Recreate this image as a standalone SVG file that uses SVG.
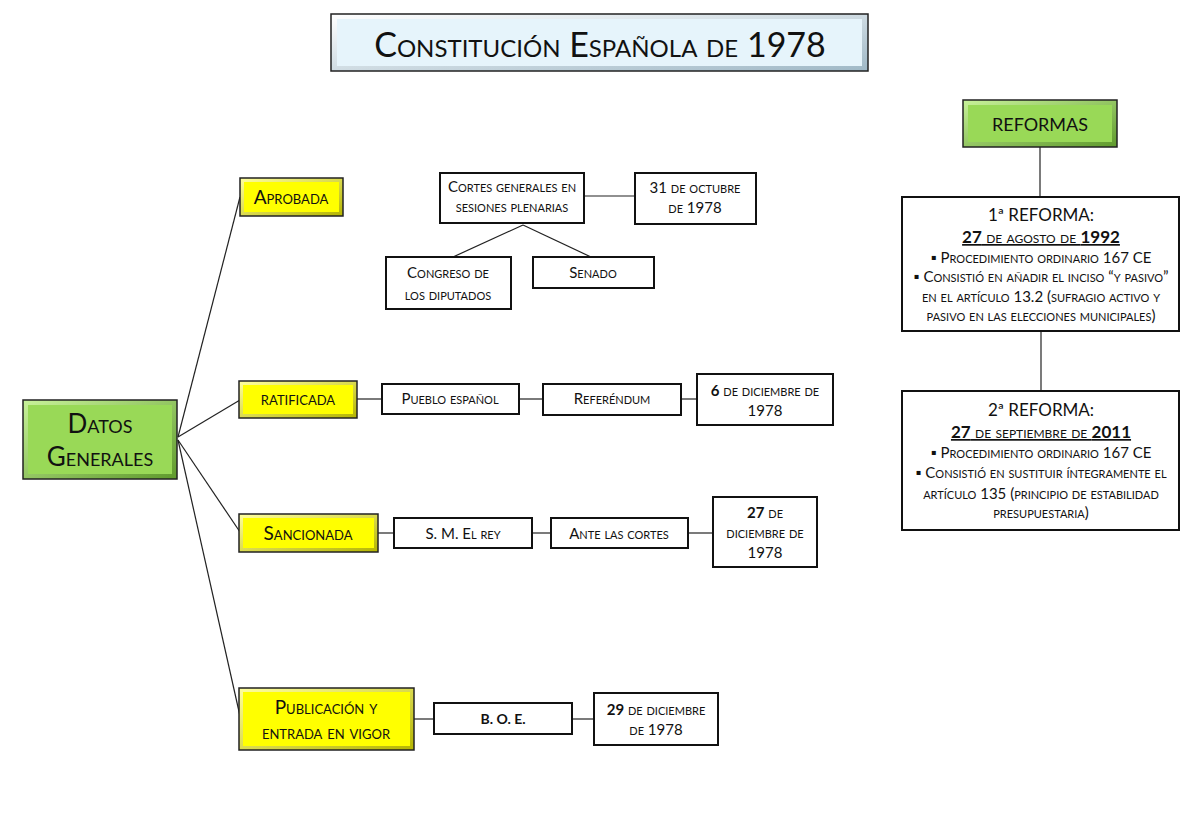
<svg xmlns="http://www.w3.org/2000/svg" width="1200" height="831" viewBox="0 0 1200 831">
<defs>
<linearGradient id="bevY" x1="0" y1="0" x2="1" y2="1"><stop offset="0" stop-color="#ffffa0"/><stop offset="1" stop-color="#b5b500"/></linearGradient>
<linearGradient id="bevG" x1="0" y1="0" x2="1" y2="1"><stop offset="0" stop-color="#c8f29a"/><stop offset="1" stop-color="#5f9a2c"/></linearGradient>
<linearGradient id="bevB" x1="0" y1="0" x2="1" y2="1"><stop offset="0" stop-color="#ffffff"/><stop offset="1" stop-color="#9fb8c6"/></linearGradient>
</defs>
<style>
text{font-family:"Lato","Liberation Sans",sans-serif;fill:#111;text-anchor:middle}
.sc{font-variant:small-caps}
.t{font-size:15px}
.y{font-size:19px}
.box{fill:#fff;stroke:#111;stroke-width:2}
.oY{fill:url(#bevY);stroke:#222;stroke-width:1.5}
.iY{fill:#ffff00}
.oG{fill:url(#bevG);stroke:#222;stroke-width:1.5}
.iG{fill:#99d957}
.con line{stroke:#222;stroke-width:1.2}
.b{font-weight:bold}
</style>
<rect width="1200" height="831" fill="#fff"/>

<g id="title">
<rect x="331" y="14" width="537" height="57" fill="url(#bevB)" stroke="#222" stroke-width="1.5"/>
<rect x="337" y="19" width="525" height="47" fill="#e6f4fb"/>
<text x="600" y="57" class="sc" style="font-size:34px">Constitución Española de 1978</text>
</g>

<g class="con" id="connectors">
<line x1="178" y1="437" x2="240" y2="197"/>
<line x1="178" y1="437" x2="240" y2="400"/>
<line x1="178" y1="440" x2="240" y2="532"/>
<line x1="178" y1="440" x2="240" y2="716"/>
<line x1="584" y1="196" x2="635" y2="196"/>
<line x1="523" y1="225" x2="453" y2="257"/>
<line x1="523" y1="225" x2="591" y2="257"/>
<line x1="357" y1="399" x2="382" y2="399"/>
<line x1="519" y1="399" x2="543" y2="399"/>
<line x1="681" y1="399" x2="697" y2="399"/>
<line x1="378" y1="533" x2="394" y2="533"/>
<line x1="532" y1="533" x2="551" y2="533"/>
<line x1="688" y1="533" x2="713" y2="533"/>
<line x1="414" y1="719" x2="434" y2="719"/>
<line x1="572" y1="719" x2="594" y2="719"/>
<line x1="1040" y1="147" x2="1040" y2="197"/>
<line x1="1041" y1="331" x2="1041" y2="391"/>
</g>

<g id="datos-generales">
<rect x="23" y="400" width="154" height="79" class="oG"/>
<rect x="28" y="405" width="144" height="69" class="iG"/>
<text x="100" y="433" class="sc" style="font-size:26px">Datos</text>
<text x="100" y="466" class="sc" style="font-size:26px">Generales</text>
</g>

<g id="aprobada">
<rect x="240" y="178" width="103" height="38" class="oY"/>
<rect x="244" y="182" width="95" height="30" class="iY"/>
<text x="291" y="204" class="sc y">Aprobada</text>
</g>
<g id="ratificada">
<rect x="239" y="381" width="118" height="37" class="oY"/>
<rect x="243" y="385" width="110" height="29" class="iY"/>
<text x="298" y="405" class="sc y">ratificada</text>
</g>
<g id="sancionada">
<rect x="239" y="514" width="139" height="38" class="oY"/>
<rect x="243" y="518" width="131" height="30" class="iY"/>
<text x="308" y="540" class="sc y">Sancionada</text>
</g>
<g id="publicacion">
<rect x="239" y="688" width="175" height="62" class="oY"/>
<rect x="243" y="692" width="167" height="54" class="iY"/>
<text x="326" y="714" class="sc y">Publicación y</text>
<text x="326" y="739" class="sc y">entrada en vigor</text>
</g>

<g id="cortes">
<rect x="440" y="173" width="144" height="50" class="box"/>
<text x="512" y="192" class="sc t">Cortes generales en</text>
<text x="512" y="212" class="sc t">sesiones plenarias</text>
</g>
<g id="fecha-aprobada">
<rect x="635" y="173" width="121" height="51" class="box"/>
<text x="695" y="193" class="sc t">31 de octubre</text>
<text x="695" y="213" class="sc t">de 1978</text>
</g>
<g id="congreso">
<rect x="386" y="257" width="125" height="52" class="box"/>
<text x="448" y="278" class="sc t">Congreso de</text>
<text x="448" y="300" class="sc t">los diputados</text>
</g>
<g id="senado">
<rect x="533" y="257" width="121" height="31" class="box"/>
<text x="593" y="278" class="sc t">Senado</text>
</g>

<g id="pueblo">
<rect x="382" y="384" width="137" height="30" class="box"/>
<text x="450" y="404" class="sc t">Pueblo español</text>
</g>
<g id="referendum">
<rect x="543" y="384" width="138" height="31" class="box"/>
<text x="612" y="404" class="sc t">Referéndum</text>
</g>
<g id="fecha-ratificada">
<rect x="697" y="374" width="136" height="51" class="box"/>
<text x="765" y="396" class="sc t"><tspan class="b">6</tspan> de diciembre de</text>
<text x="765" y="416" class="sc t">1978</text>
</g>

<g id="rey">
<rect x="394" y="518" width="138" height="30" class="box"/>
<text x="463" y="539" class="sc t">S. M. El rey</text>
</g>
<g id="ante-cortes">
<rect x="551" y="518" width="137" height="30" class="box"/>
<text x="619" y="539" class="sc t">Ante las cortes</text>
</g>
<g id="fecha-sancionada">
<rect x="713" y="497" width="104" height="70" class="box"/>
<text x="765" y="518" class="sc t"><tspan class="b">27</tspan> de</text>
<text x="765" y="538" class="sc t">diciembre de</text>
<text x="765" y="558" class="sc t">1978</text>
</g>

<g id="boe">
<rect x="434" y="703" width="138" height="31" class="box"/>
<text x="503" y="724" class="b" style="font-size:14px">B. O. E.</text>
</g>
<g id="fecha-publicacion">
<rect x="594" y="693" width="124" height="52" class="box"/>
<text x="656" y="715" class="sc t"><tspan class="b">29</tspan> de diciembre</text>
<text x="656" y="735" class="sc t">de 1978</text>
</g>

<g id="reformas">
<rect x="963" y="100" width="154" height="47" class="oG"/>
<rect x="968" y="105" width="144" height="37" class="iG"/>
<text x="1040" y="131" style="font-size:18px">REFORMAS</text>
</g>

<g id="reforma-1">
<rect x="902" y="197" width="277" height="134" class="box"/>
<text x="1041" y="221" style="font-size:17px">1ª REFORMA:</text>
<text x="1041" y="243" class="sc" style="font-size:17px;text-decoration:underline"><tspan class="b">27</tspan> de agosto de <tspan class="b">1992</tspan></text>
<text x="1041" y="263" class="sc t">▪ Procedimiento ordinario 167 CE</text>
<text x="1041" y="282" class="sc t">▪ Consistió en añadir el inciso “y pasivo”</text>
<text x="1041" y="302" class="sc t">en el artículo 13.2 (sufragio activo y</text>
<text x="1041" y="321" class="sc t">pasivo en las elecciones municipales)</text>
</g>

<g id="reforma-2">
<rect x="902" y="391" width="277" height="139" class="box"/>
<text x="1041" y="416" style="font-size:17px">2ª REFORMA:</text>
<text x="1041" y="438" class="sc" style="font-size:17px;text-decoration:underline"><tspan class="b">27</tspan> de septiembre de <tspan class="b">2011</tspan></text>
<text x="1041" y="458" class="sc t">▪ Procedimiento ordinario 167 CE</text>
<text x="1041" y="478" class="sc t">▪ Consistió en sustituir íntegramente el</text>
<text x="1041" y="499" class="sc t">artículo 135 (principio de estabilidad</text>
<text x="1041" y="518" class="sc t">presupuestaria)</text>
</g>
</svg>
